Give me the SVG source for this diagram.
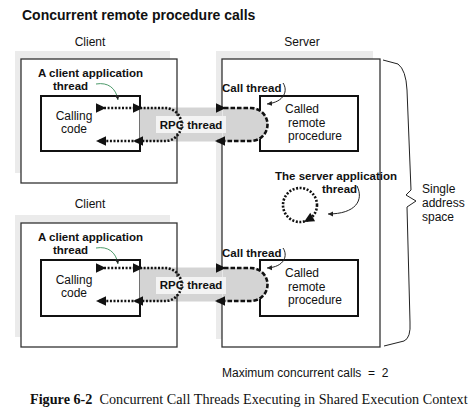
<svg xmlns="http://www.w3.org/2000/svg" width="474" height="411" viewBox="0 0 474 411">
<style>
text{font-family:"Liberation Sans",Arial,sans-serif;fill:#111}
.b{font-weight:bold;font-size:11.5px}
.r{font-size:12px}
.shadow{fill:#ebebeb}
.outer{fill:none;stroke:#333;stroke-width:1.3}
.inner{fill:#fff;stroke:#111;stroke-width:2}
.band{fill:#d4d4d4;stroke:#d4d4d4;stroke-width:1}
.dot{fill:none;stroke:#111;stroke-width:2.6;stroke-dasharray:2 1.6}
.dash{fill:none;stroke:#111;stroke-width:2.6;stroke-dasharray:4.5 2}
.thin{fill:none;stroke:#222;stroke-width:1}
.green{fill:none;stroke:#4d9a6a;stroke-width:1}
</style>
<defs>
<path id="ah" d="M0,0 L-10,-4.8 L-10,4.8 Z" fill="#111"/>
<marker id="sm" markerWidth="6" markerHeight="6" refX="5" refY="3" orient="auto" markerUnits="userSpaceOnUse"><path d="M0,0.5 L5,3 L0,5.5 Z" fill="#222"/></marker>
</defs>
<text x="22" y="20" style="font-weight:bold;font-size:14px">Concurrent remote procedure calls</text>

<!-- shadows and box fills -->
<rect class="shadow" x="15" y="51" width="155" height="122"/>
<rect class="shadow" x="15" y="215" width="155" height="122"/>
<rect class="shadow" x="216" y="51" width="157" height="288"/>
<rect x="21" y="59" width="156" height="124" fill="#fff"/>
<rect x="21" y="223" width="156" height="124" fill="#fff"/>
<rect x="222" y="59" width="158" height="288" fill="#fff"/>
<rect class="outer" x="222" y="59" width="158" height="288"/>

<g id="client1">
<text class="r" x="90" y="46" text-anchor="middle">Client</text>
<text class="b" x="38" y="77">A client application</text>
<text class="b" x="53" y="90">thread</text>
</g>
<g id="calling1">
<rect class="inner" x="41" y="96" width="99" height="55"/>
<text class="r" x="74" y="120" text-anchor="middle">Calling</text>
<text class="r" x="74" y="133" text-anchor="middle">code</text>
</g>
<g id="client2">
<text class="r" x="90" y="208" text-anchor="middle">Client</text>
<text class="b" x="38" y="241">A client application</text>
<text class="b" x="53" y="254">thread</text>
</g>
<g id="calling2">
<rect class="inner" x="41" y="260" width="99" height="56"/>
<text class="r" x="74" y="284" text-anchor="middle">Calling</text>
<text class="r" x="74" y="297" text-anchor="middle">code</text>
</g>
<g id="server">
<text class="r" x="302" y="46" text-anchor="middle">Server</text>
<text class="b" x="222" y="92">Call thread</text>
<text class="b" x="222" y="257">Call thread</text>
</g>
<g id="called1">
<rect class="inner" x="260" y="96" width="98" height="55"/>
<text class="r" x="285" y="113">Called</text>
<text class="r" x="288" y="127">remote</text>
<text class="r" x="288" y="140">procedure</text>
</g>
<g id="called2">
<rect class="inner" x="260" y="260" width="98" height="56"/>
<text class="r" x="285" y="277">Called</text>
<text class="r" x="288" y="291">remote</text>
<text class="r" x="288" y="304">procedure</text>
</g>

<!-- RPC bands -->
<path class="band" d="M140,108 H251 A16.5,16.5 0 0 1 251,141 H140 Z"/>
<path class="band" d="M140,268 H251 A16.5,16.5 0 0 1 251,301 H140 Z"/>
<line x1="222.5" y1="108" x2="222.5" y2="141" stroke="#e8e8e8" stroke-width="1"/>
<line x1="222.5" y1="268" x2="222.5" y2="301" stroke="#e8e8e8" stroke-width="1"/>
<rect class="outer" x="21" y="59" width="156" height="124"/>
<rect class="outer" x="21" y="223" width="156" height="124"/>
<g id="rpc1">
<rect x="156" y="116" width="70" height="17" fill="#f3f3f3"/>
<text class="b" x="191" y="128.5" text-anchor="middle">RPC thread</text>
</g>
<g id="rpc2">
<rect x="156" y="277" width="70" height="17" fill="#f3f3f3"/>
<text class="b" x="191" y="289" text-anchor="middle">RPC thread</text>
</g>

<g id="serverthread">
<text class="b" x="275" y="180">The server application</text>
<text class="b" x="322" y="193">thread</text>
<circle class="dot" cx="300" cy="205" r="17"/>
<use href="#ah" transform="translate(304,222) rotate(150)"/>
</g>

<g id="connectors">
<path class="dot" d="M104,108 H165 A16.5,16.5 0 0 1 165,141 H98"/>
<use href="#ah" transform="translate(106,108)"/>
<use href="#ah" transform="translate(143,108)"/>
<use href="#ah" transform="translate(96,141) rotate(180)"/>
<use href="#ah" transform="translate(133,141) rotate(180)"/>
<path class="dash" d="M224,108 H251 A16.5,16.5 0 0 1 251,141 H217"/>
<use href="#ah" transform="translate(226,108)"/>
<use href="#ah" transform="translate(215,141) rotate(180)"/>

<path class="dot" d="M104,268 H165 A16.5,16.5 0 0 1 165,301 H98"/>
<use href="#ah" transform="translate(106,268)"/>
<use href="#ah" transform="translate(143,268)"/>
<use href="#ah" transform="translate(96,301) rotate(180)"/>
<use href="#ah" transform="translate(133,301) rotate(180)"/>
<path class="dash" d="M224,268 H251 A16.5,16.5 0 0 1 251,301 H217"/>
<use href="#ah" transform="translate(226,268)"/>
<use href="#ah" transform="translate(215,301) rotate(180)"/>

<path class="green" d="M96,84 C108,82 116,88 118,100" marker-end="url(#sm)"/>
<path class="green" d="M96,248 C108,246 116,252 118,264" marker-end="url(#sm)"/>
<path class="thin" d="M283,83 C288,90 285,102 267,104" marker-end="url(#sm)"/>
<path class="thin" d="M283,248 C288,255 285,267 267,268" marker-end="url(#sm)"/>
<path class="thin" d="M357,186 C364,200 356,214 328,214" marker-end="url(#sm)"/>
</g>

<g id="brace">
<path class="thin" d="M383,60 L398,64 Q406,70 407,90 L411,190 L406,195 L416,201 L407,207 L410,322 Q411,338 404,341 L384,346"/>
<text class="r" x="422" y="193">Single</text>
<text class="r" x="422" y="207">address</text>
<text class="r" x="422" y="221">space</text>
</g>

<text class="r" x="222" y="377" xml:space="preserve">Maximum concurrent calls  =  2</text>
<text x="30" y="404" style="font-family:'Liberation Serif','Times New Roman',serif;font-size:14.2px" xml:space="preserve"><tspan font-weight="bold">Figure 6-2</tspan>  Concurrent Call Threads Executing in Shared Execution Context</text>
</svg>
